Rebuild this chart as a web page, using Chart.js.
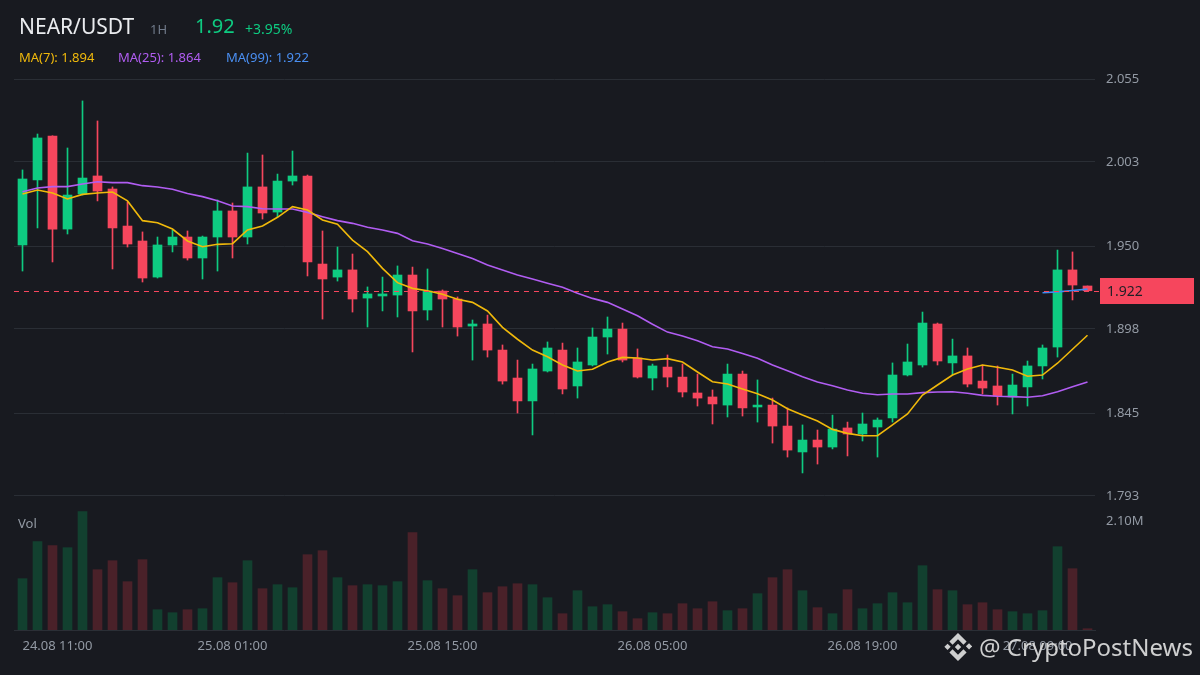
<!DOCTYPE html>
<html><head><meta charset="utf-8">
<script src="https://cdn.jsdelivr.net/npm/chart.js@4.4.1/dist/chart.umd.min.js"></script>
<style>
html,body{margin:0;padding:0;background:#181a20;}
body{width:1200px;height:675px;position:relative;overflow:hidden;font-family:"Noto Sans",sans-serif;}
.t{position:absolute;white-space:nowrap;line-height:1;}
#pw{position:absolute;left:0;top:0;width:1200px;height:505px;}
#vw{position:absolute;left:0;top:505px;width:1200px;height:170px;}
#wm{position:absolute;left:944px;top:633px;display:flex;align-items:center;gap:7px;color:rgba(222,222,222,0.92);font-size:24px;line-height:1;white-space:nowrap;}
</style></head><body>
<div id="pw"><canvas id="pc"></canvas></div>
<div id="vw"><canvas id="vc"></canvas></div>

<div class="t" style="left:19px;top:15.5px;font-size:21px;color:#eaecef;">NEAR/USDT</div>
<div class="t" style="left:150px;top:22.5px;font-size:13px;color:#707a8a;">1H</div>
<div class="t" style="left:195px;top:16.2px;font-size:20px;color:#0ecb81;">1.92</div>
<div class="t" style="left:245px;top:21.6px;font-size:14px;color:#0ecb81;">+3.95%</div>
<div class="t" style="left:19px;top:51.2px;font-size:13px;color:#f0b90b;">MA(7): 1.894</div>
<div class="t" style="left:118px;top:51.2px;font-size:13px;color:#b15df2;">MA(25): 1.864</div>
<div class="t" style="left:226px;top:51.2px;font-size:13px;color:#4a8ff2;">MA(99): 1.922</div>
<div class="t" style="left:18px;top:516.5px;font-size:13px;color:#939aa4;">Vol</div>

<div id="wm">
<svg width="28" height="28" viewBox="0 0 126.61 126.61" fill="rgba(222,222,222,0.92)">
<path d="M38.73,53.2,63.3,28.63,87.89,53.22l14.3-14.3L63.3,0,24.42,38.88Z"/>
<rect x="4.19" y="53.1" width="20.22" height="20.22" transform="translate(-38.78 27.81) rotate(-45)"/>
<path d="M38.73,73.41,63.3,98l24.59-24.59,14.31,14.29h0L63.3,126.61,24.42,87.73l0,0Z"/>
<rect x="102.2" y="53.11" width="20.22" height="20.22" transform="translate(-10.86 95.19) rotate(-45)"/>
<path d="M77.83,63.3h0L63.3,48.78,52.58,59.51h0l-1.23,1.23-2.54,2.54h0l0,0,14.51,14.5L77.83,63.31h0Z"/>
</svg><span>@ CryptoPostNews</span></div>

<script>
// ---- data ----
const tickIndex = [0, 14, 28, 42, 56, 70];
const tickLabels = ["24.08 11:00", "25.08 01:00", "25.08 15:00", "26.08 05:00", "26.08 19:00", "27.08 09:00"];
const priceTicks = [1.793, 1.845, 1.898, 1.950, 2.003, 2.055];
const volTicks = [2100];

const open = [1.9508,1.9917,2.0193,1.9608,1.9829,1.9942,1.9860,1.9627,1.9533,1.9306,
1.9508,1.9558,1.9426,1.9558,1.9722,1.9558,1.9873,1.9715,1.9910,1.9942,
1.9388,1.9306,1.9351,1.9174,1.9187,1.9193,1.9319,1.9099,1.9218,1.9168,
1.8998,1.9011,1.8847,1.8671,1.8527,1.8715,1.8847,1.8621,1.8753,1.8929,
1.8979,1.8797,1.8671,1.8740,1.8677,1.8577,1.8552,1.8501,1.8696,1.8489,
1.8501,1.8369,1.8206,1.8281,1.8237,1.8357,1.8319,1.8363,1.8420,1.8690,
1.8753,1.9011,1.8766,1.8810,1.8652,1.8621,1.8552,1.8615,1.8747,1.8866,
1.9351,1.9250];
const high = [1.9980,2.0206,2.0195,2.0118,2.0414,2.0288,1.9873,1.9778,1.9590,1.9558,
1.9602,1.9596,1.9564,1.9791,1.9772,2.0086,2.0074,1.9954,2.0099,1.9948,
1.9596,1.9495,1.9451,1.9244,1.9306,1.9376,1.9369,1.9357,1.9225,1.9181,
1.9036,1.9067,1.8879,1.8784,1.8759,1.8898,1.8891,1.8860,1.8986,1.9055,
1.9017,1.8854,1.8759,1.8816,1.8759,1.8696,1.8596,1.8759,1.8715,1.8659,
1.8545,1.8483,1.8376,1.8344,1.8438,1.8394,1.8451,1.8420,1.8766,1.8885,
1.9086,1.9017,1.8916,1.8860,1.8753,1.8747,1.8696,1.8778,1.8879,1.9476,
1.9464,1.9250];
const low = [1.9344,1.9615,1.9401,1.9577,1.9822,1.9785,1.9357,1.9495,1.9275,1.9300,
1.9464,1.9413,1.9294,1.9344,1.9426,1.9514,1.9671,1.9684,1.9885,1.9313,
1.9042,1.9281,1.9086,1.8992,1.9093,1.9055,1.8835,1.9036,1.8992,1.8935,
1.8784,1.8803,1.8633,1.8451,1.8313,1.8709,1.8571,1.8545,1.8747,1.8822,
1.8772,1.8671,1.8596,1.8615,1.8552,1.8495,1.8382,1.8426,1.8432,1.8394,
1.8262,1.8174,1.8074,1.8130,1.8225,1.8181,1.8275,1.8174,1.8394,1.8684,
1.8740,1.8753,1.8690,1.8615,1.8571,1.8501,1.8445,1.8495,1.8665,1.8803,
1.9162,1.9218];
const close = [1.9923,2.0181,1.9608,1.9822,1.9929,1.9847,1.9615,1.9514,1.9300,1.9508,
1.9558,1.9426,1.9558,1.9722,1.9558,1.9873,1.9709,1.9910,1.9942,1.9401,
1.9294,1.9351,1.9168,1.9200,1.9200,1.9319,1.9093,1.9218,1.9168,1.8992,
1.9011,1.8847,1.8652,1.8527,1.8728,1.8860,1.8602,1.8772,1.8929,1.8979,
1.8784,1.8677,1.8747,1.8677,1.8583,1.8545,1.8508,1.8696,1.8483,1.8501,
1.8369,1.8218,1.8281,1.8237,1.8350,1.8319,1.8382,1.8407,1.8690,1.8772,
1.9017,1.8778,1.8810,1.8633,1.8608,1.8558,1.8627,1.8747,1.8860,1.9351,
1.9256,1.9220];
const volume = [989,1702,1624,1586,2280,1162,1335,931,1355,391,
333,391,410,1008,911,1335,796,873,815,1451,
1528,1008,854,873,854,931,1875,950,796,661,
1162,719,834,892,873,622,314,757,449,488,
353,218,333,314,507,410,545,372,410,700,
1008,1162,757,430,314,777,410,507,719,526,
1239,777,757,488,526,391,353,314,372,1605,
1181,25];
const ma7 = [1.9829,1.9854,1.9835,1.9797,1.9826,1.9835,1.9841,1.9785,1.9661,1.9648,
1.9608,1.9533,1.9497,1.9512,1.9516,1.9602,1.9627,1.9682,1.9749,1.9728,
1.9665,1.9638,1.9539,1.9466,1.9361,1.9271,1.9235,1.9220,1.9198,1.9166,
1.9147,1.9093,1.8990,1.8915,1.8847,1.8805,1.8753,1.8715,1.8726,1.8772,
1.8801,1.8797,1.8784,1.8793,1.8772,1.8709,1.8648,1.8633,1.8602,1.8572,
1.8533,1.8478,1.8438,1.8401,1.8348,1.8323,1.8308,1.8308,1.8376,1.8445,
1.8564,1.8627,1.8690,1.8728,1.8753,1.8739,1.8722,1.8682,1.8690,1.8764,
1.8852,1.8940];
const ma25 = [1.9843,1.9866,1.9875,1.9875,1.9891,1.9906,1.9900,1.9900,1.9881,1.9873,
1.9858,1.9832,1.9812,1.9786,1.9753,1.9749,1.9736,1.9734,1.9734,1.9713,
1.9686,1.9661,1.9644,1.9619,1.9602,1.9581,1.9535,1.9514,1.9486,1.9454,
1.9423,1.9382,1.9351,1.9319,1.9294,1.9267,1.9242,1.9204,1.9172,1.9147,
1.9105,1.9063,1.9009,1.8960,1.8935,1.8905,1.8868,1.8854,1.8826,1.8795,
1.8753,1.8717,1.8679,1.8646,1.8622,1.8596,1.8575,1.8566,1.8571,1.8571,
1.8579,1.8583,1.8585,1.8575,1.8562,1.8556,1.8554,1.8550,1.8560,1.8585,
1.8616,1.8646];
const ma99Start = 68;
const ma99 = [1.9207,1.9213,1.9222,1.9230];

// ---- styling ----
const GREEN = '#0ecb81', RED = '#f6465d';
const up = close.map((c, i) => c >= open[i]);
const candleColors = up.map(u => u ? GREEN : RED);
const volColors = up.map(u => u ? '#12402f' : '#4a2129');
const FONT = {family: '"Noto Sans", sans-serif', size: 13};
const AXIS = '#939aa4';
const xMin = -8.5 / 15, xMax = xMin + 1081 / 15;

Chart.defaults.font.family = '"Noto Sans", sans-serif';

function fitY(s) { s.width = 105; s.paddingTop = 0; s.paddingBottom = 0; }
function fitX(s) { s.height = 24; s.paddingLeft = 0; s.paddingRight = 0; }

const priceLine = {
  id: 'priceLine',
  afterDatasetsDraw(chart) {
    const {ctx, chartArea, scales: {y}} = chart;
    const py = Math.round(y.getPixelForValue(close[close.length - 1])) + 0.5;
    ctx.save();
    ctx.strokeStyle = RED; ctx.lineWidth = 1; ctx.setLineDash([5, 5]);
    ctx.beginPath(); ctx.moveTo(chartArea.left, py); ctx.lineTo(chartArea.right + 5, py); ctx.stroke();
    ctx.restore();
  },
  afterDraw(chart) {
    const {ctx, chartArea, scales: {y}} = chart;
    const last = close[close.length - 1];
    const py = Math.round(y.getPixelForValue(last));
    ctx.save();
    ctx.fillStyle = RED;
    ctx.fillRect(chartArea.right + 5, py - 13, 94, 26);
    ctx.fillStyle = '#1e2026';
    ctx.font = '14px "Noto Sans", sans-serif';
    ctx.textBaseline = 'middle';
    ctx.fillText(last.toFixed(3), chartArea.right + 12, py + 1);
    ctx.restore();
  }
};

new Chart(document.getElementById('pc'), {
  type: 'bar',
  data: {datasets: [
    {type: 'line', label: 'MA(7)', data: ma7.map((v, i) => ({x: i, y: v})), borderColor: '#f0b90b', borderWidth: 1.6, pointRadius: 0, order: 0},
    {type: 'line', label: 'MA(25)', data: ma25.map((v, i) => ({x: i, y: v})), borderColor: '#b15df2', borderWidth: 1.6, pointRadius: 0, order: 0},
    {type: 'line', label: 'MA(99)', data: ma99.map((v, k) => ({x: ma99Start + k, y: v})), borderColor: '#3f8cf0', borderWidth: 1.6, pointRadius: 0, order: 0},
    {label: 'body', data: open.map((o, i) => ({x: i, y: [o, close[i]]})), backgroundColor: candleColors, barThickness: 9, minBarLength: 1, grouped: false, borderWidth: 0, order: 1},
    {label: 'wick', data: low.map((l, i) => ({x: i, y: [l, high[i]]})), backgroundColor: candleColors, barThickness: 1, grouped: false, borderWidth: 0, order: 2}
  ]},
  options: {
    responsive: true, maintainAspectRatio: false, animation: false,
    layout: {padding: {top: 60, left: 14, right: 0, bottom: 0}},
    plugins: {legend: {display: false}, tooltip: {enabled: false}},
    scales: {
      x: {type: 'linear', min: xMin, max: xMax, offset: false, display: false},
      y: {position: 'right', min: 1.78724, max: 2.06714,
        afterBuildTicks: s => { s.ticks = priceTicks.map(v => ({value: v})); },
        afterFit: fitY,
        grid: {color: '#2a2e35', drawTicks: true, tickLength: 11, tickColor: 'rgba(0,0,0,0)', lineWidth: 1},
        border: {display: false},
        ticks: {color: AXIS, font: FONT, padding: 0, callback: v => Number(v).toFixed(3)}
      }
    }
  },
  plugins: [priceLine]
});

new Chart(document.getElementById('vc'), {
  type: 'bar',
  data: {datasets: [
    {label: 'Vol', data: volume.map((v, i) => ({x: i, y: v})), backgroundColor: volColors, barThickness: 9, borderWidth: 0}
  ]},
  options: {
    responsive: true, maintainAspectRatio: false, animation: false,
    layout: {padding: {top: 0, left: 14, right: 0, bottom: 21}},
    plugins: {legend: {display: false}, tooltip: {enabled: false}},
    scales: {
      x: {type: 'linear', min: xMin, max: xMax, offset: false,
        afterBuildTicks: s => { s.ticks = tickIndex.map(v => ({value: v})); },
        afterFit: fitX,
        grid: {display: false, drawTicks: false},
        border: {display: true, color: '#2b2f36'},
        ticks: {align: 'inner', padding: 8, maxRotation: 0, autoSkip: false, color: AXIS, font: FONT,
          callback: v => tickLabels[tickIndex.indexOf(v)]}
      },
      y: {position: 'right', min: 0, max: 2408,
        afterBuildTicks: s => { s.ticks = volTicks.map(v => ({value: v})); },
        afterFit: fitY,
        grid: {display: false, drawTicks: true, tickLength: 11, tickColor: 'rgba(0,0,0,0)'},
        border: {display: false},
        ticks: {color: AXIS, font: FONT, padding: 0, callback: v => (v / 1000).toFixed(2) + 'M'}
      }
    }
  }
});
</script>
</body></html>
